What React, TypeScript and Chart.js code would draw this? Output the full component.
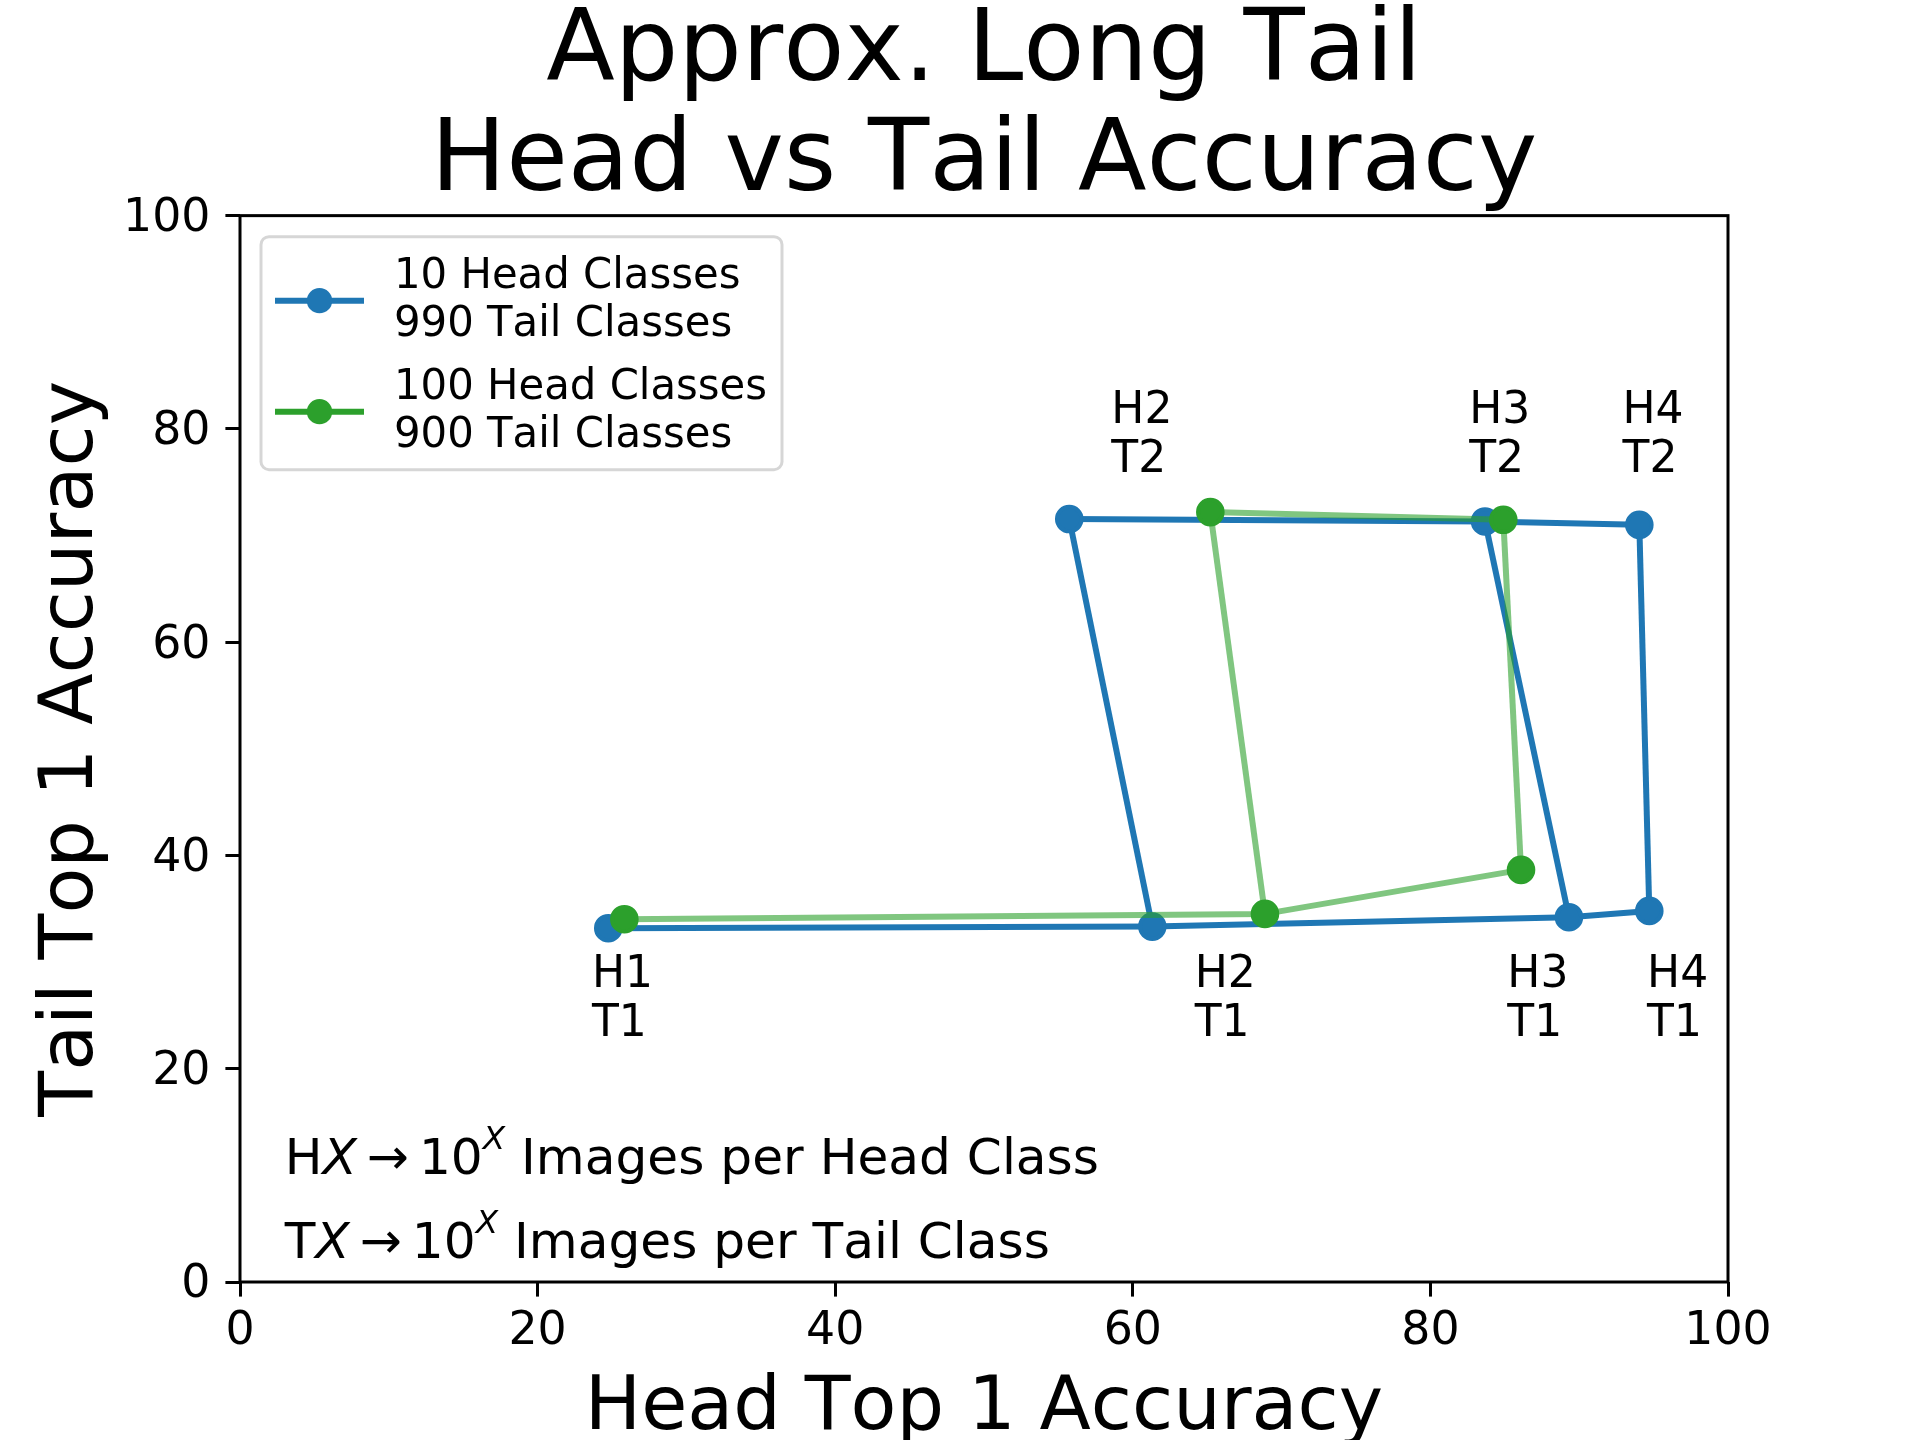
import React, { useEffect, useRef } from 'react';
import { Chart, registerables } from 'chart.js';

Chart.register(...registerables);

const FONT = '"DejaVu Sans", "Noto Sans", sans-serif';
const BLUE = '#1f77b4';
const GREEN = '#2ca02c';
const GREEN_LINE = 'rgba(44,160,44,0.6)';

// Titles
const titleLines = ['Approx. Long Tail', 'Head vs Tail Accuracy'];
const xTitle = 'Head Top 1 Accuracy';
const yTitle = 'Tail Top 1 Accuracy';

// Series names (legend, two lines each)
const blueName = ['10 Head Classes', '990 Tail Classes'];
const greenName = ['100 Head Classes', '900 Tail Classes'];

// 10 head / 990 tail classes: T1 row (H1..H4) and T2 row (H2..H4)
const blueHeadT1 = [24.75, 61.31, 89.31, 94.71];
const blueTailT1 = [33.18, 33.33, 34.21, 34.8];
const blueHeadT2 = [55.73, 83.67, 94.04];
const blueTailT2 = [71.55, 71.32, 71.01];

// 100 head / 900 tail classes: T1 row (H1..H3) and T2 row (H2..H3)
const greenHeadT1 = [25.83, 68.88, 86.09];
const greenTailT1 = [34.02, 34.52, 38.65];
const greenHeadT2 = [65.21, 84.9];
const greenTailT2 = [72.2, 71.48];

// Axis ticks
const axisMin = 0;
const axisMax = 100;
const tickStep = 20;

// Point annotations (x = left of text, y = baseline of last line, in data units)
const pointLabels = ['H1\nT1', 'H2\nT1', 'H3\nT1', 'H4\nT1', 'H2\nT2', 'H3\nT2', 'H4\nT2'];
const pointLabelX = [23.65, 64.16, 85.17, 94.56, 58.56, 82.61, 92.91];
const pointLabelY = [23.1, 23.1, 23.1, 23.1, 76.0, 76.0, 76.0];

// Notes
const noteLetters = ['H', 'T'];
const noteTexts = [' Images per Head Class', ' Images per Tail Class'];
const noteX = [3.0, 3.0];
const noteY = [10.1, 2.25];

const toPoints = (xs: number[], ys: number[]) => xs.map((x, i) => ({ x, y: ys[i] }));

function buildSeries(
  h1: number[], t1: number[], h2: number[], t2: number[],
  lineColor: string, markerColor: string, lineOrder: number, markerOrder: number,
) {
  const lineStyle = {
    showLine: true,
    borderColor: lineColor,
    backgroundColor: lineColor,
    borderWidth: 6,
    pointRadius: 0,
    pointHoverRadius: 0,
    borderJoinStyle: 'round' as const,
    borderCapStyle: 'butt' as const,
    tension: 0,
    fill: false,
    order: lineOrder,
  };
  const sets: any[] = [];
  sets.push({ ...lineStyle, data: toPoints(h1, t1) });
  sets.push({ ...lineStyle, data: toPoints(h2, t2) });
  const off = h1.length - h2.length;
  h2.forEach((x, k) => {
    sets.push({ ...lineStyle, data: [{ x: h1[off + k], y: t1[off + k] }, { x, y: t2[k] }] });
  });
  sets.push({
    showLine: false,
    data: [...toPoints(h1, t1), ...toPoints(h2, t2)],
    pointRadius: 12.3,
    pointHoverRadius: 12.3,
    pointBorderWidth: 4,
    pointBackgroundColor: markerColor,
    pointBorderColor: markerColor,
    order: markerOrder,
  });
  return sets;
}

const decorPlugin = {
  id: 'decor',
  beforeDraw(chart: any) {
    try { chart.ctx.fontKerning = 'none'; } catch (e) { /* ignore */ }
  },
  afterDatasetsDraw(chart: any) {
    const { ctx, chartArea: a, scales } = chart;
    const xs = scales.x;
    const ys = scales.y;
    ctx.save();
    try { ctx.fontKerning = 'none'; } catch (e) { /* ignore */ }

    // frame (all four spines)
    ctx.strokeStyle = '#000';
    ctx.lineWidth = 3;
    ctx.strokeRect(a.left, a.top, a.right - a.left, a.bottom - a.top);

    // point labels
    ctx.fillStyle = '#000';
    ctx.textAlign = 'left';
    ctx.textBaseline = 'alphabetic';
    ctx.font = `44px ${FONT}`;
    pointLabels.forEach((t, i) => {
      const lines = t.split('\n');
      const px = xs.getPixelForValue(pointLabelX[i]);
      const py = ys.getPixelForValue(pointLabelY[i]);
      lines.forEach((ln, j) => ctx.fillText(ln, px, py - (lines.length - 1 - j) * 49));
    });

    // notes with math
    const fs = 50.2;
    noteLetters.forEach((letter, i) => {
      let cx = xs.getPixelForValue(noteX[i]);
      const by = ys.getPixelForValue(noteY[i]);
      const seg = (text: string, font: string, dy = 0) => {
        ctx.font = font;
        ctx.fillText(text, cx, by - dy);
        cx += ctx.measureText(text).width;
      };
      seg(letter, `${fs}px ${FONT}`);
      seg('X', `italic ${fs}px ${FONT}`);
      cx += 0.2 * fs;
      seg('\u2192', `${fs}px ${FONT}`);
      cx += 0.2 * fs;
      seg('10', `${fs}px ${FONT}`);
      seg('X', `italic ${0.65 * fs}px ${FONT}`, 0.5 * fs);
      seg(noteTexts[i], `${fs}px ${FONT}`);
    });

    // legend
    const lx = a.left + 21;
    const ly = a.top + 21;
    const lw = 521;
    const lh = 233;
    ctx.beginPath();
    ctx.roundRect(lx, ly, lw, lh, 8);
    ctx.fillStyle = 'rgba(255,255,255,0.8)';
    ctx.fill();
    ctx.strokeStyle = 'rgba(204,204,204,0.8)';
    ctx.lineWidth = 3;
    ctx.stroke();
    const entries = [
      { color: BLUE, lines: blueName },
      { color: GREEN, lines: greenName },
    ];
    entries.forEach((e, i) => {
      const hy = ly + 64 + i * 111;
      ctx.strokeStyle = e.color;
      ctx.lineWidth = 6;
      ctx.beginPath();
      ctx.moveTo(lx + 14, hy);
      ctx.lineTo(lx + 103, hy);
      ctx.stroke();
      ctx.fillStyle = e.color;
      ctx.beginPath();
      ctx.arc(lx + 58.5, hy, 12.7, 0, Math.PI * 2);
      ctx.fill();
      ctx.fillStyle = '#000';
      ctx.font = `41.8px ${FONT}`;
      const base = ly + 51.3 + i * 110.7;
      e.lines.forEach((ln, j) => ctx.fillText(ln, lx + 133, base + j * 48.4));
    });

    ctx.restore();
  },
};

export default function App() {
  const ref = useRef<HTMLCanvasElement | null>(null);

  useEffect(() => {
    if (!ref.current) return;
    Chart.defaults.font.family = FONT;
    Chart.defaults.color = '#000';

    const datasets = [
      ...buildSeries(blueHeadT1, blueTailT1, blueHeadT2, blueTailT2, BLUE, BLUE, 4, 3),
      ...buildSeries(greenHeadT1, greenTailT1, greenHeadT2, greenTailT2, GREEN_LINE, GREEN, 2, 1),
    ];

    const axisCommon = (title: string) => ({
      type: 'linear' as const,
      min: axisMin,
      max: axisMax,
      border: { display: false },
      grid: {
        display: true,
        drawOnChartArea: false,
        drawTicks: true,
        tickLength: 14.6,
        tickWidth: 3,
        tickColor: '#000',
        color: '#000',
      },
      ticks: {
        stepSize: tickStep,
        autoSkip: false,
        maxRotation: 0,
        minRotation: 0,
        color: '#000',
        font: { family: FONT, size: 45.8, lineHeight: 1 },
      },
      title: {
        display: true,
        text: title,
        color: '#000',
        font: { family: FONT, size: 75, lineHeight: 1, weight: 'normal' as const },
      },
    });

    const xAxis: any = axisCommon(xTitle);
    xAxis.ticks.padding = 12.5;
    xAxis.title.padding = { top: 0, bottom: -7 };
    xAxis.afterFit = (s: any) => { s.height = 158; };

    const yAxis: any = axisCommon(yTitle);
    yAxis.ticks.padding = 15;
    yAxis.ticks.labelOffset = 3.5;
    yAxis.title.padding = { top: 35, bottom: 0 };
    yAxis.afterFit = (s: any) => { s.width = 240; };

    const chart = new Chart(ref.current, {
      type: 'scatter',
      data: { datasets },
      options: {
        responsive: false,
        maintainAspectRatio: false,
        devicePixelRatio: 1,
        animation: false,
        events: [],
        layout: { padding: { left: 0, right: 192, top: 0, bottom: 0 } },
        scales: { x: xAxis, y: yAxis },
        plugins: {
          legend: { display: false },
          tooltip: { enabled: false },
          title: {
            display: true,
            text: titleLines,
            color: '#000',
            fullSize: false,
            align: 'center',
            font: { family: FONT, size: 100.2, weight: 'normal', lineHeight: 1.1 },
            padding: { top: -1.5, bottom: -3.3 },
          },
        },
      },
      plugins: [decorPlugin],
    });

    return () => chart.destroy();
  }, []);

  return (
    <div style={{ position: 'fixed', left: 0, top: 0, width: 1920, height: 1440, background: '#fff' }}>
      <canvas ref={ref} width={1920} height={1440} style={{ display: 'block', width: 1920, height: 1440 }} />
    </div>
  );
}
